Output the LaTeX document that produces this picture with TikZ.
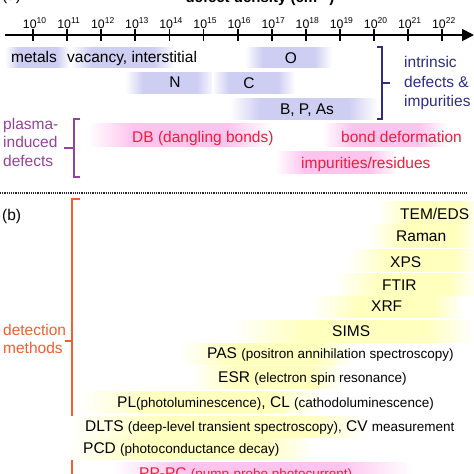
\documentclass[tikz,border=0pt]{standalone}
\usepackage{fontspec}
\setmainfont{Liberation Sans}
\usetikzlibrary{arrows.meta}
\definecolor{barblue}{RGB}{206,206,242}
\definecolor{barpink}{RGB}{255,196,238}
\definecolor{baryel}{RGB}{255,255,190}
\definecolor{navyt}{RGB}{45,45,135}
\definecolor{purpt}{RGB}{150,65,155}
\definecolor{redt}{RGB}{235,30,60}
\definecolor{orngt}{RGB}{240,95,45}
\pgfdeclarehorizontalshading{bluebar}{100bp}{color(0bp)=(white); color(25bp)=(white); color(35bp)=(barblue); color(65bp)=(barblue); color(75bp)=(white); color(100bp)=(white)}
\pgfdeclarehorizontalshading{pinkbar}{100bp}{color(0bp)=(white); color(25bp)=(white); color(37bp)=(barpink); color(63bp)=(barpink); color(75bp)=(white); color(100bp)=(white)}
\pgfdeclarehorizontalshading{yelbar}{100bp}{color(0bp)=(white); color(25bp)=(white); color(40bp)=(baryel); color(65bp)=(baryel); color(75bp)=(white); color(100bp)=(white)}
\newcommand\tenpow[1]{10\raisebox{5pt}{\fontsize{8.5}{8.5}\selectfont #1}}
\newcommand\smtxt[1]{{\fontsize{13.5}{16}\selectfont #1}}
\tikzset{
  lbl/.style={anchor=base west, inner sep=0pt, font=\fontsize{15.5}{18}\selectfont},
  ticklbl/.style={anchor=base, inner sep=0pt, font=\fontsize{12.3}{13}\selectfont},
  tickmark/.style={line width=1.8pt},
  axisline/.style={line width=1.8pt, -{Triangle[length=12pt,width=12pt]}},
  brk/.style={line width=1.6pt},
}
\begin{document}
\begin{tikzpicture}[x=1pt,y=-1pt]
\useasboundingbox (0,0) rectangle (474,474);
\clip (0,0) rectangle (474,474);
% title and panel label
\node[lbl] (la) at (2,0.5) {(a)};
\node[anchor=base, inner sep=0pt, font=\fontsize{15}{18}\selectfont\bfseries] (title) at (260,2.5) {defect density (cm\raisebox{5pt}{\fontsize{9}{9}\selectfont $-$3})};
% axis
\coordinate (axs) at (5,35);
\coordinate (axe) at (474,35);
\draw[axisline] (axs) -- (axe);
\foreach \n in {10,...,22}{
  \pgfmathsetmacro\xx{33+(\n-10)*34.1}
  \draw[tickmark] (\xx,29) -- (\xx,41);
  \node[ticklbl] (t\n) at (\xx+1.5,28) {\tenpow{\n}};
}
% blue bars
\shade[shading=bluebar] (5,47) rectangle (70,67);
\shade[shading=bluebar] (70,47) rectangle (175,67);
\shade[shading=bluebar] (245,47) rectangle (332,67);
\shade[shading=bluebar] (125,72) rectangle (215,93);
\shade[shading=bluebar] (212,72) rectangle (295,93);
\shade[shading=bluebar] (230,98) rectangle (378,119);
% pink bars
\shade[shading=pinkbar] (88,123) rectangle (272,146);
\shade[shading=pinkbar] (322,123) rectangle (448,146);
\shade[shading=pinkbar] (275,151) rectangle (398,173);
% labels (a)
\node[lbl] (metals) at (11,62.5) {metals};
\node[lbl] (vac) at (67,62.5) {vacancy, interstitial};
\node[lbl,anchor=base] (O) at (291,63) {O};
\node[lbl,anchor=base] (N) at (175,87) {N};
\node[lbl,anchor=base] (C) at (249,88) {C};
\node[lbl,anchor=base] (BPAs) at (307,114) {B, P, As};
\node[lbl,text=navyt] (intr1) at (404,67) {intrinsic};
\node[lbl,text=navyt] (intr2) at (404,87) {defects \&};
\node[lbl,text=navyt] (intr3) at (404,106) {impurities};
\draw[brk,navyt] (377,47) -- (382,47) -- (382,119) -- (377,119);
\draw[brk,navyt] (382,83) -- (390,83);
\node[lbl,text=purpt] (pl1) at (3,129) {plasma-};
\node[lbl,text=purpt] (pl2) at (3,147.5) {induced};
\node[lbl,text=purpt] (pl3) at (3,166) {defects};
\draw[brk,purpt] (80,119) -- (74,119) -- (74,177) -- (80,177);
\draw[brk,purpt] (74,148) -- (64,148);
\node[lbl,text=redt] (db) at (132,142) {DB (dangling bonds)};
\node[lbl,text=redt] (bd) at (341,142) {bond deformation};
\node[lbl,text=redt] (ir) at (301,168) {impurities/residues};
% separator
\coordinate (sepL) at (0,193);
\coordinate (sepR) at (467,193);
\draw[line width=1.2pt, dash pattern=on 1.1pt off 1.1pt, black!85] (sepL) -- (sepR);
% panel (b)
\node[lbl] (lb) at (2,220) {(b)};
\draw[brk,orngt] (80,199) -- (72,199) -- (72,480);
\draw[brk,orngt] (72,341) -- (65,341);
\node[lbl,text=orngt] (det1) at (3,335) {detection};
\node[lbl,text=orngt] (det2) at (3,353) {methods};
% yellow bars
\shade[shading=yelbar] (378,201) rectangle (480,224);
\shade[shading=yelbar] (368,224) rectangle (480,247);
\shade[shading=yelbar] (348,249) rectangle (480,271);
\shade[shading=yelbar] (335,273) rectangle (478,295);
\shade[shading=yelbar] (312,296) rectangle (464,317);
\shade[shading=yelbar] (232,320) rectangle (474,342);
\shade[shading=yelbar] (178,343) rectangle (352,364);
\shade[shading=yelbar] (190,366) rectangle (342,388);
\shade[shading=yelbar] (78,391) rectangle (322,412);
\shade[shading=yelbar] (68,416) rectangle (367,437);
\shade[shading=yelbar] (68,438) rectangle (312,459);
\shade[shading=pinkbar] (112,462) rectangle (412,486);
% labels (b)
\node[lbl] (tem) at (400,219) {TEM/EDS};
\node[lbl] (raman) at (396,241.5) {Raman};
\node[lbl] (xps) at (390,267) {XPS};
\node[lbl] (ftir) at (382,290) {FTIR};
\node[lbl] (xrf) at (371,311.5) {XRF};
\node[lbl] (sims) at (332,336.5) {SIMS};
\node[lbl] (pas) at (207,358) {PAS \smtxt{(positron annihilation spectroscopy)}};
\node[lbl] (esr) at (218,382.5) {ESR \smtxt{(electron spin resonance)}};
\node[lbl] (pl) at (117,407) {PL\smtxt{(photoluminescence)}, CL \smtxt{(cathodoluminescence)}};
\node[lbl] (dlts) at (85,431.5) {DLTS \smtxt{(deep-level transient spectroscopy),} CV \smtxt{measurement}};
\node[lbl] (pcd) at (83,453) {PCD \smtxt{(photoconductance decay)}};
\node[lbl,text=redt] (pppc) at (139,478) {PP-PC \smtxt{(pump-probe photocurrent)}};
\end{tikzpicture}
\end{document}
